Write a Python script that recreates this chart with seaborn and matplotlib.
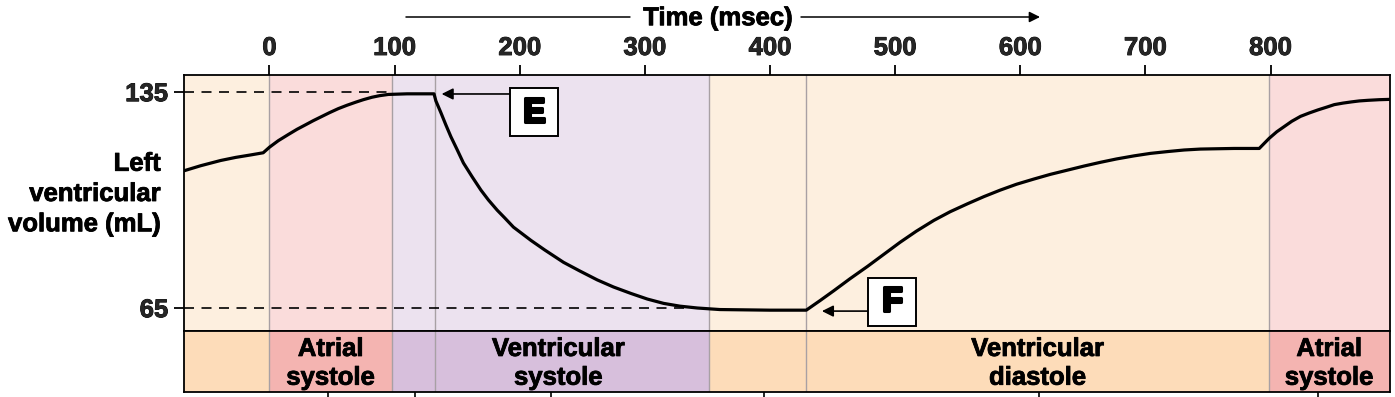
import matplotlib
matplotlib.use("Agg")
import matplotlib.pyplot as plt
import matplotlib.transforms as mtransforms
import matplotlib.patheffects as pe
import seaborn as sns
import pandas as pd

# ---------------- data ----------------
time_ms = [-68, -55, -39, -27, -15, -5, 0, 7, 15, 22, 29, 35, 42, 48, 55, 62,
           69, 75, 82, 88, 95, 110, 131.5,
           133, 137, 141, 145, 150, 155, 162, 169, 175, 182, 188, 195, 209,
           220, 235, 248, 262, 275, 289, 302, 315, 328, 342, 360,
           400, 429, 440, 451, 464, 478, 491, 504, 517, 531, 544, 558, 571,
           584, 597, 611, 624, 638, 651, 664, 677, 691, 704, 718, 731,
           744, 757, 771, 791, 799, 805, 811, 817, 824, 831, 838, 845, 851,
           858, 865, 871, 878, 887, 895]
volume_ml = [109.4, 111.0, 112.7, 113.7, 114.5, 115.2, 117.0, 119.1, 121.1,
             122.8, 124.3, 125.6, 127.0, 128.2, 129.5, 130.6,
             131.6, 132.4, 133.2, 133.7, 134.1, 134.3, 134.3,
             132.0, 128.2, 124.2, 120.4, 116.2, 111.9, 107.4, 103.1, 99.9,
             96.6, 94.1, 91.1, 86.8, 83.7, 79.7, 76.9, 74.0, 71.7, 69.6,
             67.8, 66.4, 65.5, 64.9, 64.4,
             64.2, 64.2, 67.3, 70.5, 74.4, 78.4, 82.3, 86.2, 89.8, 93.3,
             96.1, 98.7, 101.0, 103.1, 105.0, 106.7, 108.2, 109.6, 110.9,
             112.1, 113.2, 114.2, 115.0, 115.6, 116.1,
             116.4, 116.5, 116.6, 116.6, 119.9, 122.0, 123.7, 125.4, 127.0,
             128.1, 129.1, 130.0, 130.8, 131.3, 131.7, 132.0, 132.2, 132.4,
             132.5]

x_ticks = [0, 100, 200, 300, 400, 500, 600, 700, 800]
y_ticks = [65, 135]
x_range = (-68.3, 895.5)
y_range = (57.45, 140.4)

phase_edges = [-68.3, 0, 98, 132, 351, 429, 799, 895.5]
phase_kind = ["rest", "atrial", "vent", "vent", "rest", "rest", "atrial"]
boundary_lines = [0, 98, 132, 351, 429, 799]

phase_labels = ["Atrial\nsystole", "Ventricular\nsystole",
                "Ventricular\ndiastole", "Atrial\nsystole"]
phase_label_x = [49, 231, 614, 847]

ref_levels = [135, 65]
ref_ends = [98, 344]

marker_labels = ["E", "F"]
marker_x = [211.4, 497.5]
marker_y = [128.3, 67.0]
arrow_tail_x = [192.2, 478.3]
arrow_tip_x = [137.6, 441.5]
arrow_y = [134.25, 63.9]

lower_ticks = [47, 116, 225, 395, 615, 838]

# ---------------- style ----------------
sns.set_theme(style="white")
plt.rcParams["font.family"] = ["Liberation Sans", "DejaVu Sans"]
plt.rcParams["font.weight"] = "bold"

upper_col = {"rest": "#fdefdf", "atrial": "#fadcdb", "vent": "#ece2ef"}
lower_col = {"rest": "#fddcb9", "atrial": "#f4b4b1", "vent": "#d7bfdc"}
grid_col = "#a8a0a4"
FS = 18.5
thick = [pe.withStroke(linewidth=0.6, foreground="black")]

W, H = 1395, 397
fig = plt.figure(figsize=(W / 100, H / 100), dpi=100)
ax = fig.add_axes([184 / W, 1 - 331 / H, 1206 / W, 256 / H])
ax2 = fig.add_axes([184 / W, 1 - 392 / H, 1206 / W, 61 / H])

for a, cols in ((ax, upper_col), (ax2, lower_col)):
    for i, k in enumerate(phase_kind):
        a.axvspan(phase_edges[i], phase_edges[i + 1], color=cols[k], lw=0, zorder=0)
    for b in boundary_lines:
        a.axvline(b, color=grid_col, lw=1.0, zorder=1)
    for s in a.spines.values():
        s.set_color("black")
        s.set_linewidth(1.3)
        s.set_visible(True)
    a.set_xlim(*x_range)

# reference dashed lines
for lvl, end in zip(ref_levels, ref_ends):
    ax.plot([x_range[0], end], [lvl, lvl], color="black", lw=1.2,
            linestyle=(0, (6, 4.5)), zorder=2)

# volume curve
df = pd.DataFrame({"time": time_ms, "volume": volume_ml})
sns.lineplot(data=df, x="time", y="volume", ax=ax, color="black", lw=2.3,
             sort=False, estimator=None, zorder=3)

ax.set_xlim(*x_range)
ax.set_ylim(*y_range)
ax.set_xlabel("")
ax.set_ylabel("")
ax.xaxis.tick_top()
ax.set_xticks(x_ticks)
ax.set_xticklabels([str(t) for t in x_ticks], fontsize=FS, fontweight="bold")
ax.set_yticks(y_ticks)
ax.set_yticklabels([str(v) for v in y_ticks], fontsize=FS, fontweight="bold")
ax.tick_params(axis="x", which="both", top=True, bottom=False, labeltop=True,
               labelbottom=False, length=7.2, width=1.3, pad=3.6,
               color="black", direction="out")
ax.tick_params(axis="y", left=True, length=7.0, width=1.3, pad=4.3,
               color="black", direction="out")
for lbl in ax.get_xticklabels() + ax.get_yticklabels():
    lbl.set_path_effects(thick)

# E / F boxes with arrows
for lab, mx, my, tx, hx, ay in zip(marker_labels, marker_x, marker_y,
                                   arrow_tail_x, arrow_tip_x, arrow_y):
    ax.annotate("", xy=(hx, ay), xytext=(tx, ay),
                arrowprops=dict(arrowstyle="-|>", lw=1.2, color="black",
                                mutation_scale=17, shrinkA=0, shrinkB=0),
                zorder=4)
    ax.plot([mx], [my], marker="s", ms=34, mfc="white", mec="black",
            mew=1.4, zorder=5)
    ax.text(mx, my, lab, ha="center", va="center", fontsize=25,
            fontweight="heavy", color="black", zorder=6,
            path_effects=[pe.withStroke(linewidth=2.2, foreground="black")])

# lower phase panel
ax2.set_ylim(0, 1)
ax2.set_yticks([])
ax2.set_xticks(lower_ticks)
ax2.tick_params(axis="x", which="both", bottom=True, top=False,
                labelbottom=False, labeltop=False, length=6, width=1.2,
                color="black", direction="out")
ax2.set_xlabel("")
for lab, lx in zip(phase_labels, phase_label_x):
    ax2.text(lx, 0.47, lab, ha="center", va="center", fontsize=FS,
             fontweight="bold", linespacing=1.25, color="black",
             path_effects=thick)

# header "Time (msec)" with arrow
hdr = mtransforms.blended_transform_factory(ax.transData, fig.transFigure)
hy = 1 - 17 / H
ax.annotate("", xy=(109.1, hy), xytext=(288.1, hy), xycoords=hdr,
            textcoords=hdr, annotation_clip=False,
            arrowprops=dict(arrowstyle="-", lw=1.1, color="black",
                            shrinkA=0, shrinkB=0))
ax.annotate("", xy=(615.8, hy), xytext=(424.8, hy), xycoords=hdr,
            textcoords=hdr, annotation_clip=False,
            arrowprops=dict(arrowstyle="-|>", lw=1.1, color="black",
                            mutation_scale=16, shrinkA=0, shrinkB=0))
ax.text(358.4, hy - 0.003, "Time (msec)", transform=hdr, ha="center",
        va="center", fontsize=FS, fontweight="bold", color="black",
        path_effects=thick)

# y-axis label
fig.text(161 / W, 1 - 194 / H, "Left\nventricular\nvolume (mL)", ha="right",
         va="center", multialignment="right", fontsize=FS, fontweight="bold",
         linespacing=1.33, color="black", path_effects=thick)

fig.savefig("out.png", dpi=100)
